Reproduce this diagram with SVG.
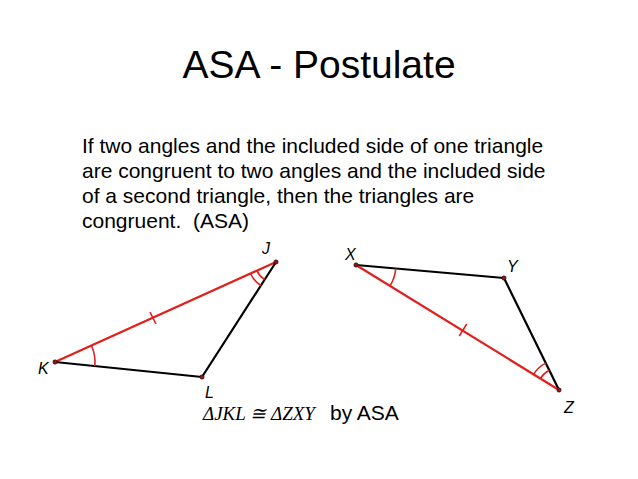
<svg xmlns="http://www.w3.org/2000/svg" width="638" height="479" viewBox="0 0 638 479">
<style>
.t{font-family:"Liberation Sans",Arial,sans-serif;fill:#000}
.lb{font-family:"Liberation Sans",Arial,sans-serif;font-style:italic;font-size:16px}
.k{stroke:#000;stroke-width:2.2;fill:none}
.r{stroke:#e0201c;stroke-width:2.2;fill:none}
.a{stroke:#e0201c;stroke-width:1.6;fill:none}
.p{fill:#8b1a1a;stroke:#000;stroke-width:0.5}
</style>
<rect width="638" height="479" fill="#fff"/>
<text class="t" x="319" y="78" font-size="39" text-anchor="middle">ASA - Postulate</text>
<g class="t" font-size="21">
<text x="82" y="153">If two angles and the included side of one triangle</text>
<text x="82" y="178">are congruent to two angles and the included side</text>
<text x="82" y="203">of a second triangle, then the triangles are</text>
<text x="82" y="228">congruent.&#160; (ASA)</text>
</g>
<g id="connectors">
<line class="r" x1="55" y1="362" x2="276" y2="262"/>
<line class="k" x1="55" y1="362" x2="202" y2="377"/>
<line class="k" x1="202" y1="377" x2="276" y2="262"/>
<line class="a" x1="150" y1="312" x2="156" y2="324"/>
<path class="a" d="M91.4,345.5 A40,40 0 0 1 94.8,366"/>
<path class="a" d="M256.9,270.7 A21,21 0 0 0 264.6,279.7"/>
<path class="a" d="M250.5,273.5 A28,28 0 0 0 260.9,285.5"/>
<line class="k" x1="356" y1="265" x2="504" y2="278"/>
<line class="k" x1="504" y1="278" x2="559" y2="390"/>
<line class="r" x1="356" y1="265" x2="559" y2="390"/>
<line class="a" x1="459.3" y1="336" x2="466.7" y2="324"/>
<path class="a" d="M395.8,268.5 A40,40 0 0 1 390,286"/>
<path class="a" d="M540.3,378.5 A22,22 0 0 1 549.3,370.2"/>
<path class="a" d="M533.5,374.3 A30,30 0 0 1 545.8,363.1"/>
</g>
<g id="J"><circle class="p" cx="276" cy="262" r="2.2"/><text class="lb" x="262" y="254">J</text></g>
<g id="K"><circle class="p" cx="55" cy="362" r="2.2"/><text class="lb" x="38" y="374">K</text></g>
<g id="L"><circle class="p" cx="202" cy="377" r="2.2"/><text class="lb" x="205" y="398">L</text></g>
<g id="X"><circle class="p" cx="356" cy="265" r="2.2"/><text class="lb" x="345" y="260">X</text></g>
<g id="Y"><circle class="p" cx="504" cy="278" r="2.2"/><text class="lb" x="507" y="272">Y</text></g>
<g id="Z"><circle class="p" cx="559" cy="390" r="2.2"/><text class="lb" x="564" y="413">Z</text></g>
<text x="203" y="420" font-family="Liberation Serif,serif" font-style="italic" font-size="19">ΔJKL ≅ ΔZXY</text>
<text class="t" x="330" y="420" font-size="21">by ASA</text>
</svg>
